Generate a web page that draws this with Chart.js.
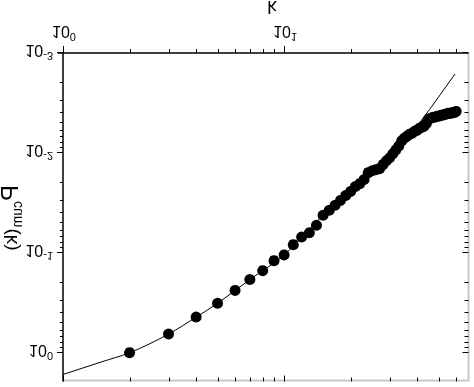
<!DOCTYPE html>
<html>
<head>
<meta charset="utf-8">
<script src="https://cdn.jsdelivr.net/npm/chart.js@4/dist/chart.umd.min.js"></script>
<style>
html,body{margin:0;padding:0;background:#fff;}
#c{display:block;transform:scaleY(-1);}
</style>
</head>
<body>
<canvas id="c" width="474" height="387"></canvas>
<script>
// ---- data ----
const kValues = [2,3,4,5,6,7,8,9,10,11,12,13,14,15,16,17,18,19,20,21,22,23,24,25,26,27,28,29,30,31,32,33,34,35,36,37,38,39,40,41,42,43,44,45,46,47,48,49,50,51,52,53,54,55,56,57,58,59,60];
const pValues = [1.0,0.65,0.44,0.32,0.238,0.185,0.151,0.12,0.105,0.083,0.0695,0.063,0.053,
  0.0421,0.0375,0.0335,0.0299,0.0267,0.0243,0.0217,0.0203,0.0185,0.0158,0.0151,0.0147,0.0144,0.0131,0.0120,0.0112,
  0.0102,0.00934,0.00853,0.0076,0.0071,0.0068,0.00649,0.00634,0.00605,0.00592,0.00565,0.00553,0.0054,0.00505,
  0.0046,0.0045,0.0044,0.0044,0.0043,0.0043,0.0042,0.0042,0.00411,0.0041,0.00402,0.0040,0.0040,0.00393,0.00393,0.00384];
const fitK = [1,1.5,2,3,4,5,7,10,15,20,30,41.5,59.3];
const fitP = [1.65,1.23,1.0,0.65,0.44,0.32,0.185,0.105,0.042,0.0243,0.0112,0.0048,0.00162];

const xMajorTicks = [1,10];
const xMajorLabels = [['10','0'],['10','1']];
const xMinorTicks = [2,3,4,5,6,7,8,9,20,30,40,50,60];
const yMajorTicks = [0.001,0.01,0.1,1];
const yMajorLabels = [['10','-3'],['10','-2'],['10','-1'],['10','0']];
const yMinorTicks = [0.002,0.003,0.004,0.005,0.006,0.007,0.008,0.009,
  0.02,0.03,0.04,0.05,0.06,0.07,0.08,0.09,0.2,0.3,0.4,0.5,0.6,0.7,0.8,0.9];
const xTitle = 'k';
const yTitleParts = ['P','cum','(k)'];

const FONT = '"Liberation Sans", Arial, sans-serif';

const decor = {
  id:'decor',
  afterDraw(chart){
    const ctx = chart.ctx, xs = chart.scales.x, ys = chart.scales.y, ca = chart.chartArea;
    ctx.save();
    // light frame top/right
    ctx.strokeStyle = '#c8c8c8'; ctx.lineWidth = 2;
    ctx.beginPath();
    ctx.moveTo(ca.left, ca.top+1); ctx.lineTo(ca.right, ca.top+1); ctx.lineTo(ca.right, ca.bottom);
    ctx.stroke();
    // axes
    ctx.strokeStyle = '#000'; ctx.lineWidth = 1.5;
    ctx.beginPath();
    ctx.moveTo(ca.left, ca.top); ctx.lineTo(ca.left, ca.bottom);
    ctx.moveTo(ca.left-5, ca.bottom); ctx.lineTo(ca.right, ca.bottom);
    ctx.stroke();
    ctx.lineWidth = 1;
    ctx.beginPath();
    xMajorTicks.forEach(v=>{const p=Math.round(xs.getPixelForValue(v))+0.5;
      ctx.moveTo(p, ca.bottom); ctx.lineTo(p, ca.bottom+7);
      ctx.moveTo(p, ca.top); ctx.lineTo(p, ca.top+6);});
    xMinorTicks.forEach(v=>{const p=Math.round(xs.getPixelForValue(v))+0.5;
      ctx.moveTo(p, ca.bottom); ctx.lineTo(p, ca.bottom+4);
      ctx.moveTo(p, ca.top); ctx.lineTo(p, ca.top+4);});
    yMajorTicks.forEach(v=>{const p=Math.round(ys.getPixelForValue(v))+0.5;
      ctx.moveTo(ca.left, p); ctx.lineTo(ca.left-6, p);
      ctx.moveTo(ca.right, p); ctx.lineTo(ca.right-6, p);});
    yMinorTicks.forEach(v=>{const p=Math.round(ys.getPixelForValue(v))+0.5;
      ctx.moveTo(ca.left, p); ctx.lineTo(ca.left-3, p);
      ctx.moveTo(ca.right, p); ctx.lineTo(ca.right-4, p);});
    ctx.stroke();

    ctx.fillStyle = '#000';
    const baseF = '16px '+FONT, expF = '11px '+FONT;
    function label(base, exp, x, y, align){
      ctx.font = baseF; const wb = ctx.measureText(base).width;
      ctx.font = expF; const we = ctx.measureText(exp).width;
      const tw = wb+we;
      let x0 = align==='center' ? x - tw/2 : x - tw;
      ctx.textAlign='left'; ctx.textBaseline='alphabetic';
      ctx.font = baseF; ctx.fillText(base, x0, y);
      ctx.font = expF; ctx.fillText(exp, x0+wb, y-7);
    }
    xMajorTicks.forEach((v,i)=>{
      label(xMajorLabels[i][0], xMajorLabels[i][1], xs.getPixelForValue(v)+1, ca.bottom+27, 'center');
    });
    yMajorTicks.forEach((v,i)=>{
      label(yMajorLabels[i][0], yMajorLabels[i][1], ca.left-10, ys.getPixelForValue(v)+8, 'right');
    });
    // x title
    ctx.font = '19px '+FONT; ctx.textAlign='center'; ctx.textBaseline='alphabetic';
    ctx.fillText(xTitle, 272, 386);
    // y title rotated
    ctx.translate(18, (ca.top+ca.bottom)/2);
    ctx.rotate(-Math.PI/2);
    const fP = '24px '+FONT, fS = '14px '+FONT, fK = '19px '+FONT;
    ctx.font=fP; const w1=ctx.measureText(yTitleParts[0]).width;
    ctx.font=fS; const w2=ctx.measureText(yTitleParts[1]).width;
    ctx.font=fK; const w3=ctx.measureText(yTitleParts[2]).width;
    let sx = -(w1+w2+w3)/2;
    ctx.textAlign='left';
    ctx.font=fP; ctx.fillText(yTitleParts[0], sx, 0);
    ctx.font=fS; ctx.fillText(yTitleParts[1], sx+w1, 4);
    ctx.font=fK; ctx.fillText(yTitleParts[2], sx+w1+w2+1, -1);
    ctx.restore();
  }
};

new Chart(document.getElementById('c'), {
  type:'scatter',
  data:{
    datasets:[
      { label:'fit', data: fitK.map((k,i)=>({x:k,y:fitP[i]})), showLine:true,
        borderColor:'#000', borderWidth:1, pointRadius:0, cubicInterpolationMode:'monotone', order:2 },
      { label:'data', data: kValues.map((k,i)=>({x:k,y:pValues[i]})), showLine:false,
        backgroundColor:'#000', borderColor:'#000', borderWidth:0, pointRadius:5.5, order:1 }
    ]
  },
  options:{
    responsive:false, animation:false, devicePixelRatio:1,
    layout:{padding:{top:2,right:2,left:0,bottom:0}},
    plugins:{legend:{display:false}, tooltip:{enabled:false}},
    scales:{
      x:{type:'logarithmic', min:1, max:68.2,
        grid:{display:false}, border:{display:false}, ticks:{display:false},
        afterFit(s){ s.height = 53; }},
      y:{type:'logarithmic', min:0.001, max:1.94,
        grid:{display:false}, border:{display:false}, ticks:{display:false},
        afterFit(s){ s.width = 63; }}
    }
  },
  plugins:[decor]
});
</script>
</body>
</html>
